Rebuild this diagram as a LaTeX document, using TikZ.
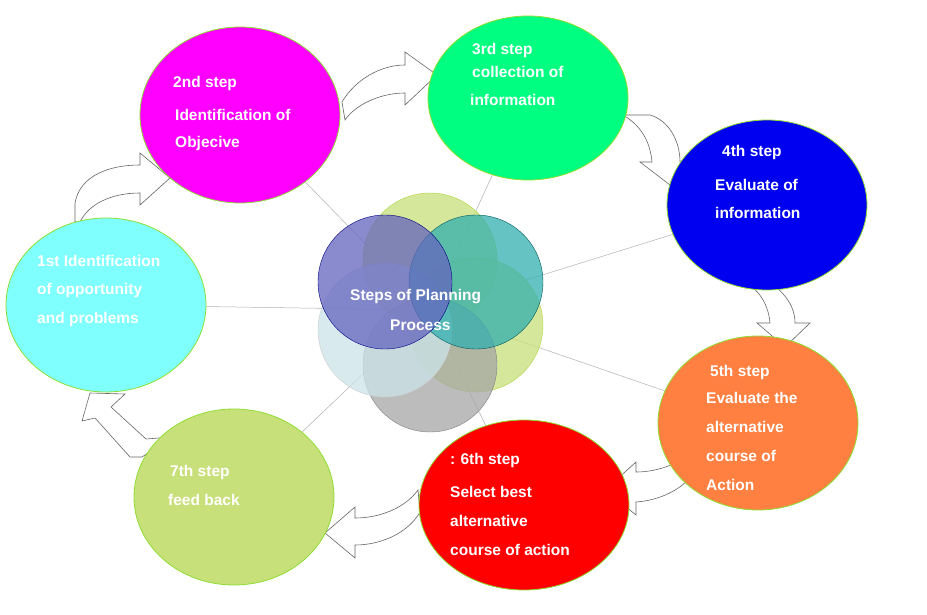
\documentclass[tikz,border=0pt]{standalone}
\usepackage{fontspec}
\setmainfont{Liberation Sans}
\begin{document}
\begin{tikzpicture}[x=1pt,y=-1pt,
  ell/.style={draw=yellowgreen!80!green, line width=0.8pt},
  txt/.style={anchor=west, inner sep=0pt, text=white, font=\fontsize{15.5}{18}\selectfont\bfseries},
  spoke/.style={draw=gray!60, line width=0.5pt},
  barrow/.style={draw=gray!80!black, fill=white, line width=0.6pt, line join=miter},
  petal/.style={draw=gray!70!black, line width=0.4pt, fill opacity=0.75}]
\definecolor{yellowgreen}{RGB}{176,214,60}
\definecolor{lgreen}{RGB}{200,224,122}
\useasboundingbox (0,0) rectangle (927,615);
\fill[white] (0,0) rectangle (927,615);
% spokes
\coordinate (c) at (430,310);
\foreach \p in {(240,115),(528,98),(767,205),(106,305),(758,423),(524,505),(234,497)}
  \draw[spoke] (c) -- \p;
% curved block arrows
\draw[barrow] (75,222) -- (75,203) .. controls (80,175) and (110,165) .. (140,165) -- (140,153) -- (170,178) -- (140,205) -- (140,193) .. controls (110,193) and (88,205) .. (80,222) -- cycle;
\draw[barrow] (342,102) .. controls (355,80) and (380,65) .. (405,65) -- (405,52) -- (437,75) -- (405,105) -- (405,93) .. controls (380,93) and (355,105) .. (345,120) -- cycle;
\draw[barrow] (623,115) -- (650,115) .. controls (668,120) and (680,140) .. (680,162) -- (693,162) -- (670,185) -- (640,162) -- (652,162) .. controls (650,140) and (640,125) .. (623,115) -- cycle;
\draw[barrow] (740,277) -- (755,277) .. controls (775,282) and (795,300) .. (795,323) -- (810,323) -- (785,347) -- (757,323) -- (770,323) .. controls (768,300) and (755,287) .. (742,280) -- cycle;
\draw[barrow] (697,445) .. controls (685,462) and (660,472) .. (636,472) -- (636,462) -- (605,490) -- (636,515) -- (636,502) .. controls (665,500) and (690,485) .. (700,463) -- cycle;
\draw[barrow] (418,490) .. controls (405,508) and (380,518) .. (355,518) -- (355,507) -- (325,533) -- (355,558) -- (355,545) .. controls (385,545) and (410,530) .. (420,512) -- cycle;
\draw[barrow] (90,393) -- (125,394) -- (111,407) -- (146,439) -- (172,437) -- (142,457) -- (130,457) -- (95,418) -- (82,421) -- cycle;
% ellipses
\draw[ell, fill={rgb,255:red,255;green,0;blue,255}] (240,115) ellipse [x radius=100, y radius=88];
\draw[ell, fill={rgb,255:red,0;green,255;blue,128}] (528,98) ellipse [x radius=100, y radius=82];
\draw[ell, fill={rgb,255:red,0;green,0;blue,240}] (767,205) ellipse [x radius=100, y radius=85];
\draw[ell, fill={rgb,255:red,128;green,255;blue,255}] (106,305) ellipse [x radius=100, y radius=87];
\draw[ell, fill={rgb,255:red,255;green,128;blue,64}] (758,423) ellipse [x radius=100, y radius=87];
\draw[ell, fill={rgb,255:red,255;green,0;blue,0}] (524,505) ellipse [x radius=105, y radius=85];
\draw[ell, fill=lgreen] (234,497) ellipse [x radius=100, y radius=88];
% center flower
\draw[petal, draw=yellowgreen, fill=lgreen] (430,260) circle [radius=67];
\draw[petal, draw=yellowgreen, fill=lgreen] (476,325) circle [radius=67];
\draw[petal, draw=gray, fill=gray!70] (430,365) circle [radius=67];
\draw[petal, draw=gray!40, fill={rgb,255:red,205;green,228;blue,234}] (385,330) circle [radius=67];
\draw[petal, draw=teal!70!black, fill={rgb,255:red,50;green,175;blue,175}] (476,282) circle [radius=67];
\draw[petal, draw=blue!50!black, fill={rgb,255:red,100;green,100;blue,190}] (385,282) circle [radius=67];
\node[txt] (ct1) at (350,297) {Steps of Planning};
\node[txt] (ct2) at (390,325) {Process};
% texts
\node[txt] (t2a) at (173,83) {2nd step};
\node[txt] (t2b) at (175,115) {Identification of};
\node[txt] (t2c) at (175,143) {Objecive};
\node[txt] (t3a) at (472,50) {3rd step};
\node[txt] (t3b) at (472,72) {collection of};
\node[txt] (t3c) at (470,100) {information};
\node[txt] (t4a) at (722,152) {4th step};
\node[txt] (t4b) at (715,185) {Evaluate of};
\node[txt] (t4c) at (715,213) {information};
\node[txt] (t1a) at (37,261) {1st Identification};
\node[txt] (t1b) at (37,290) {of opportunity};
\node[txt] (t1c) at (37,319) {and problems};
\node[txt] (t5a) at (710,372) {5th step};
\node[txt] (t5b) at (706,398) {Evaluate the};
\node[txt] (t5c) at (706,427) {alternative};
\node[txt] (t5d) at (706,456) {course of};
\node[txt] (t5e) at (706,485) {Action};
\node[txt] (t6a) at (450,460) {:\,\,6th step};
\node[txt] (t6b) at (450,492) {Select best};
\node[txt] (t6c) at (450,521) {alternative};
\node[txt] (t6d) at (450,550) {course of action};
\node[txt] (t7a) at (170,472) {7th step};
\node[txt] (t7b) at (168,500) {feed back};
\end{tikzpicture}
\end{document}
